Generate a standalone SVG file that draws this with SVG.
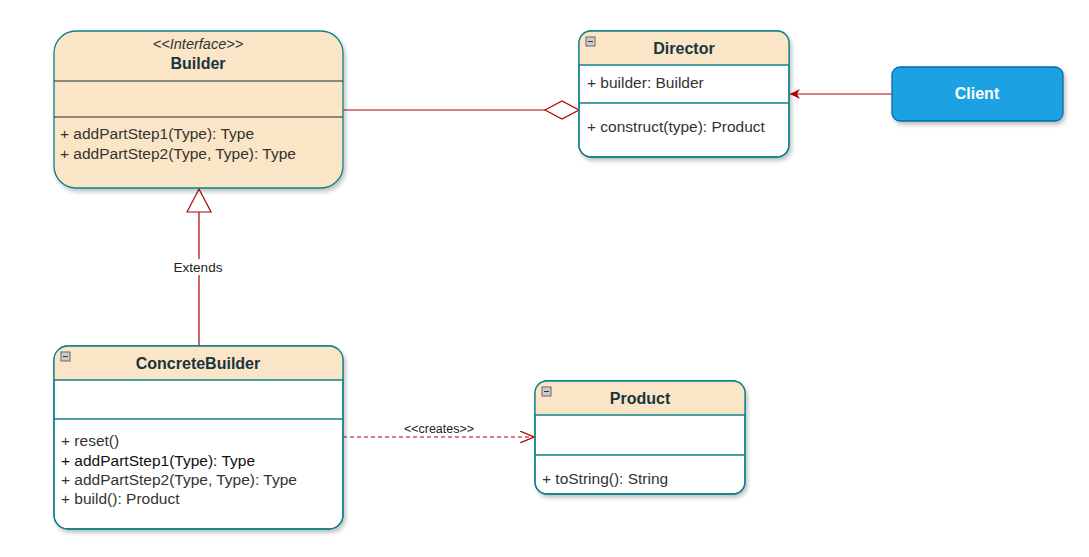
<svg xmlns="http://www.w3.org/2000/svg" width="1089" height="557" viewBox="0 0 1089 557">
<style>
text{font-family:"Liberation Sans",Arial,sans-serif;font-size:15.5px;fill:#333}
.t{font-weight:bold;text-anchor:middle;fill:#1a3440}
.box{stroke:#0e8088;stroke-width:1.3}
.hd{fill:#fae5c7}
.wh{fill:#fff}
.sep{stroke:#0e8088;stroke-width:1.3}
.c{stroke:#b20000;stroke-width:1.2;fill:none}
.ic{fill:#ccc;stroke:#666;stroke-width:1}
</style>
<defs>
<filter id="sh" x="-10%" y="-10%" width="130%" height="130%"><feDropShadow dx="2" dy="3" stdDeviation="2" flood-opacity="0.25"/></filter>
<marker id="arr" viewBox="0 0 10 10" refX="10" refY="5" markerWidth="10" markerHeight="10" orient="auto" markerUnits="userSpaceOnUse"><path d="M0,0 L10,5 L0,10 L3,5 Z" fill="#b20000"/></marker>
<marker id="open" viewBox="0 0 14 12" refX="14" refY="6" markerWidth="14" markerHeight="12" orient="auto" markerUnits="userSpaceOnUse"><path d="M0,0 L14,6 L0,12" fill="none" stroke="#b20000" stroke-width="1.2"/></marker>
</defs>
<g id="connectors">
<line class="c" x1="343" y1="110" x2="545" y2="110"/>
<path d="M545,110 L562,101 L579,110 L562,119 Z" fill="#fff" stroke="#b20000" stroke-width="1.2"/>
<line class="c" x1="892" y1="94" x2="790" y2="94" marker-end="url(#arr)"/>
<line class="c" x1="199" y1="346" x2="199" y2="211"/>
<path d="M187,212 L199,189 L211,212 Z" fill="#fff" stroke="#b20000" stroke-width="1.2"/>
<rect x="168" y="259" width="60" height="16" fill="#fff"/>
<text x="198" y="272" text-anchor="middle" style="font-size:13.5px;fill:#222">Extends</text>
<line class="c" x1="343" y1="437" x2="534" y2="437" stroke-dasharray="4,3" marker-end="url(#open)"/>
<text x="439" y="433" text-anchor="middle" style="font-size:12.5px;fill:#222">&lt;&lt;creates&gt;&gt;</text>
</g>
<g id="builder">
<rect x="54" y="31" width="289" height="157" rx="22" class="box hd" filter="url(#sh)"/>
<line x1="54" y1="81" x2="343" y2="81" stroke="#1a2a30"/>
<line x1="54" y1="117" x2="343" y2="117" stroke="#1a2a30"/>
<text x="198" y="49" text-anchor="middle" font-style="italic" style="font-size:14.5px">&lt;&lt;Interface&gt;&gt;</text>
<text x="198" y="69" class="t" style="font-size:16px">Builder</text>
<text x="60" y="139">+ addPartStep1(Type): Type</text>
<text x="60" y="159">+ addPartStep2(Type, Type): Type</text>
</g>
<g id="director">
<rect x="579" y="31" width="210" height="126" rx="12" class="box wh" filter="url(#sh)"/>
<path d="M579,65 V43 A12,12 0 0 1 591,31 H777 A12,12 0 0 1 789,43 V65 Z" class="hd"/>
<rect x="579" y="31" width="210" height="126" rx="12" fill="none" class="box"/>
<line x1="579" y1="65" x2="789" y2="65" class="sep"/>
<line x1="579" y1="103" x2="789" y2="103" class="sep"/>
<rect x="586" y="37" width="9" height="9" class="ic"/><line x1="588" y1="41.5" x2="593" y2="41.5" stroke="#333"/>
<text x="684" y="54" class="t" style="font-size:16px">Director</text>
<text x="587" y="88">+ builder: Builder</text>
<text x="587" y="132">+ construct(type): Product</text>
</g>
<g id="client">
<rect x="892" y="67" width="171" height="54" rx="8" fill="#1ba1e2" stroke="#006eaf" stroke-width="1.3" filter="url(#sh)"/>
<text x="977" y="99" text-anchor="middle" style="font-weight:bold;font-size:16px;fill:#fff">Client</text>
</g>
<g id="concretebuilder">
<rect x="54" y="346" width="289" height="183" rx="14" class="box wh" filter="url(#sh)"/>
<path d="M54,380 V360 A14,14 0 0 1 68,346 H329 A14,14 0 0 1 343,360 V380 Z" class="hd"/>
<rect x="54" y="346" width="289" height="183" rx="14" fill="none" class="box"/>
<line x1="54" y1="380" x2="343" y2="380" class="sep"/>
<line x1="54" y1="419" x2="343" y2="419" class="sep"/>
<rect x="61" y="352" width="9" height="9" class="ic"/><line x1="63" y1="356.5" x2="68" y2="356.5" stroke="#333"/>
<text x="198" y="369" class="t" style="font-size:16px">ConcreteBuilder</text>
<text x="61" y="446">+ reset()</text>
<text x="61" y="466" style="fill:#111">+ addPartStep1(Type): Type</text>
<text x="61" y="485">+ addPartStep2(Type, Type): Type</text>
<text x="61" y="504">+ build(): Product</text>
</g>
<g id="product">
<rect x="535" y="381" width="210" height="113" rx="12" class="box wh" filter="url(#sh)"/>
<path d="M535,415 V393 A12,12 0 0 1 547,381 H733 A12,12 0 0 1 745,393 V415 Z" class="hd"/>
<rect x="535" y="381" width="210" height="113" rx="12" fill="none" class="box"/>
<line x1="535" y1="415" x2="745" y2="415" class="sep"/>
<line x1="535" y1="455" x2="745" y2="455" class="sep"/>
<rect x="542" y="387" width="9" height="9" class="ic"/><line x1="544" y1="391.5" x2="549" y2="391.5" stroke="#333"/>
<text x="640" y="404" class="t" style="font-size:16px">Product</text>
<text x="542" y="484">+ toString(): String</text>
</g>
</svg>
